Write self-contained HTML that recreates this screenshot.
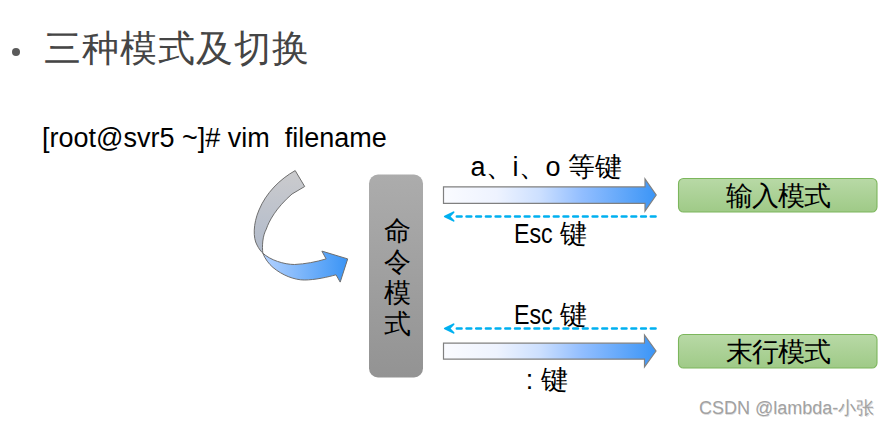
<!DOCTYPE html>
<html><head><meta charset="utf-8">
<style>
html,body{margin:0;padding:0;background:#fff;width:890px;height:426px;overflow:hidden}
body{position:relative;font-family:"Liberation Sans",sans-serif}
.t{position:absolute;white-space:pre;line-height:1;transform-origin:0 0}
</style></head><body>
<svg width="890" height="426" viewBox="0 0 890 426" style="position:absolute;left:0;top:0">
<defs>
<linearGradient id="ab" x1="0" y1="0" x2="1" y2="0">
<stop offset="0" stop-color="#fafbff"/>
<stop offset="0.25" stop-color="#eef3ff"/>
<stop offset="0.45" stop-color="#cde0ff"/>
<stop offset="0.65" stop-color="#92beff"/>
<stop offset="1" stop-color="#3b95f6"/>
</linearGradient>
<linearGradient id="gr" x1="0" y1="0" x2="0" y2="1">
<stop offset="0" stop-color="#b8d9a6"/>
<stop offset="1" stop-color="#9fca87"/>
</linearGradient>
<linearGradient id="gy" x1="0" y1="0" x2="0" y2="1">
<stop offset="0" stop-color="#acacac"/>
<stop offset="1" stop-color="#939393"/>
</linearGradient>
<linearGradient id="cg" x1="0" y1="0" x2="0" y2="1">
<stop offset="0" stop-color="#cbcbcd"/>
<stop offset="1" stop-color="#b0bacb"/>
</linearGradient>
<linearGradient id="cb" x1="0" y1="0" x2="1" y2="0">
<stop offset="0" stop-color="#b4d2ff"/>
<stop offset="1" stop-color="#3a94f5"/>
</linearGradient>
</defs>
<!-- bullet -->
<circle cx="16" cy="52" r="4" fill="#5a5a5a"/>
<!-- curved arrow -->
<path d="M295.2,170.6 C280,179 266,193 259,210 C253,224 253,238 257,245 C259,249 261,251.5 262.8,253.1 C262,246 262.5,236 266.3,229.1 C269,221 276,208 292,194 L304.7,186.5 Z" fill="url(#cg)" stroke="#6e6e6e" stroke-width="1" stroke-linejoin="round"/>
<path d="M262.8,253.1 C265,259 269,264 273,267.5 C282,275 294,280 304.3,280 C315,280 328,277 336,274.8 L340.2,282.1 L347.7,258.9 L321.9,251.1 L326.1,258.9 C316,262 305,264 294.5,264.5 C284,264.5 270,260 262.8,253.1 Z" fill="url(#cb)" stroke="#6e6e6e" stroke-width="1"/>
<!-- command mode rect -->
<rect x="369" y="174.5" width="54" height="203" rx="9" fill="url(#gy)"/>
<!-- arrow 1 -->
<path d="M443.5,186.9 H645 V179 L656.2,195 L645,211 V203.4 H443.5 Z" fill="url(#ab)" stroke="#808080" stroke-width="1.2"/>
<!-- dashed 1 -->
<line x1="456.8" y1="216.5" x2="655.8" y2="216.5" stroke="#00b0f0" stroke-width="2.5" stroke-linecap="round" stroke-dasharray="4.8 4.9"/>
<path d="M444.8,216.5 L453.6,212.2 L449.5,216.5 L453.6,220.8 Z" fill="#00b0f0" stroke="#00b0f0" stroke-width="1.8" stroke-linejoin="round"/>
<!-- dashed 2 -->
<line x1="456.8" y1="328.5" x2="655.8" y2="328.5" stroke="#00b0f0" stroke-width="2.5" stroke-linecap="round" stroke-dasharray="4.8 4.9"/>
<path d="M444.8,328.5 L453.6,324.2 L449.5,328.5 L453.6,332.8 Z" fill="#00b0f0" stroke="#00b0f0" stroke-width="1.8" stroke-linejoin="round"/>
<!-- arrow 2 -->
<path d="M443.5,343.2 H644.5 V335 L656,351 L644.5,367 V359.2 H443.5 Z" fill="url(#ab)" stroke="#808080" stroke-width="1.2"/>
<!-- green boxes -->
<rect x="678.5" y="178.5" width="198.5" height="33.5" rx="5" fill="url(#gr)" stroke="#7cb65c" stroke-width="1.1"/>
<rect x="678.5" y="334.5" width="198.5" height="33.5" rx="5" fill="url(#gr)" stroke="#7cb65c" stroke-width="1.1"/>
</svg>
<div class="t" id="title" style="left:44px;top:30px;font-size:37px;letter-spacing:1px;color:#454545">三种模式及切换</div>
<div class="t" id="cmd" style="left:42px;top:125px;font-size:27px;color:#000;transform:scaleX(1.0)">[root@svr5 ~]# vim  filename</div>
<div class="t" id="aio" style="left:470.5px;top:153.5px;font-size:27px;color:#000">a、i、o 等键</div>
<div class="t" id="esc1" style="left:514px;top:220.5px;font-size:27px;color:#000;transform:scaleX(0.86)">Esc</div><div class="t" id="k1" style="left:559.7px;top:221px;font-size:27px;color:#000">键</div>
<div class="t" id="esc2" style="left:514px;top:301.5px;font-size:27px;color:#000;transform:scaleX(0.86)">Esc</div><div class="t" id="k2" style="left:559.7px;top:302px;font-size:27px;color:#000">键</div>
<div class="t" id="colon" style="left:525.8px;top:367.2px;font-size:27px;color:#000">: 键</div>
<div class="t" id="cmdmode" style="left:383.5px;top:215.5px;font-size:27px;line-height:31px;color:#000;white-space:normal;width:28px">命令模式</div>
<div class="t" id="input" style="left:726px;top:183px;font-size:27px;letter-spacing:-1px;color:#000">输入模式</div>
<div class="t" id="last" style="left:726px;top:339px;font-size:27px;letter-spacing:-1px;color:#000">末行模式</div>
<div class="t" id="wm" style="left:699px;top:398.5px;font-size:18px;color:#a2a2a2;text-shadow:0.5px 0.5px 0.5px rgba(0,0,0,0.15)">CSDN @lambda-小张</div>
</body></html>
